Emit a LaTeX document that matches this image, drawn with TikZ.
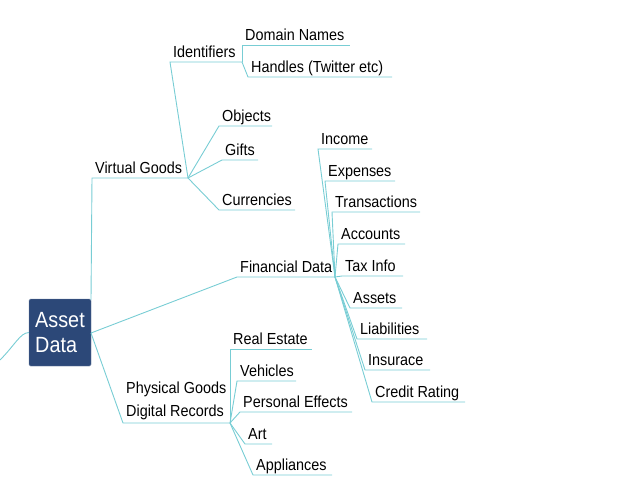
\documentclass[tikz,border=0pt]{standalone}
\usepackage{fontspec}
\setmainfont{Liberation Sans}[FakeStretch=0.9]
\begin{document}
\begin{tikzpicture}[x=1pt,y=-1pt]
\definecolor{ln}{RGB}{120,205,212}
\definecolor{rootc}{RGB}{44,72,120}
\tikzset{br/.style={draw=ln,line width=0.9pt},
  lbl/.style={anchor=base west,inner sep=0pt,font=\fontsize{16}{19}\selectfont},
  rootbox/.style={fill=rootc,draw=rootc!70!white,rounded corners=1.5pt,text=white,align=left,font=\fontsize{22}{25}\selectfont,minimum width=62pt,minimum height=67pt,inner sep=3pt}}
\useasboundingbox (0,0) rectangle (638,479);
\node[rootbox] (root) at (60,332.5) {Asset\\Data};
\coordinate (L) at (0,360);
\draw[br] (L) .. controls (15,345) and (20,333) .. (root.west);
\coordinate (rh) at (91,333);
\newcommand\mybranch[6]{%
  \coordinate (#2s) at (#3,#5); \coordinate (#2e) at (#4,#5);
  \draw[br] (#1) -- (#2s) -- (#2e);
  \node[lbl] (#2) at ([xshift=3pt,yshift=5pt]#2s) {#6};}
\coordinate (rt) at (91,300);
\mybranch{rt}{vg}{92}{188}{178}{Virtual Goods}
\mybranch{rh}{fd}{237}{335}{277}{Financial Data}
\coordinate (pgs) at (123,423); \coordinate (pge) at (230,423);
\draw[br] (rh) -- (pgs) -- (pge);
\node[lbl,anchor=south west,align=left,font=\fontsize{16}{23}\selectfont] (pg) at ([xshift=3pt,yshift=3pt]pgs) {Physical Goods\\Digital Records};
\coordinate (vh) at (188,178);
\mybranch{vh}{id}{170}{242}{62}{Identifiers}
\mybranch{vh}{ob}{219}{272}{126}{Objects}
\mybranch{vh}{gi}{222}{258}{160}{Gifts}
\mybranch{vh}{cu}{219}{295}{210}{Currencies}
\coordinate (ih) at (242,62);
\mybranch{ih}{dn}{242}{350}{45}{Domain Names}
\mybranch{ih}{ha}{248}{392}{77}{Handles (Twitter etc)}
\coordinate (fh) at (335,277);
\mybranch{fh}{in}{318}{372}{149}{Income}
\mybranch{fh}{ex}{325}{395}{181}{Expenses}
\mybranch{fh}{tr}{332}{420}{212}{Transactions}
\mybranch{fh}{ac}{338}{405}{244}{Accounts}
\mybranch{fh}{ta}{342}{403}{276}{Tax Info}
\mybranch{fh}{as}{350}{402}{308}{Assets}
\mybranch{fh}{li}{357}{427}{339}{Liabilities}
\mybranch{fh}{ins}{365}{430}{370}{Insurace}
\mybranch{fh}{cr}{372}{465}{402}{Credit Rating}
\coordinate (ph) at (230,423);
\mybranch{ph}{re}{230}{312}{349}{Real Estate}
\mybranch{ph}{ve}{237}{296}{381}{Vehicles}
\mybranch{ph}{pe}{240}{352}{412}{Personal Effects}
\mybranch{ph}{ar}{245}{272}{444}{Art}
\mybranch{ph}{ap}{253}{332}{475}{Appliances}
\end{tikzpicture}
\end{document}
